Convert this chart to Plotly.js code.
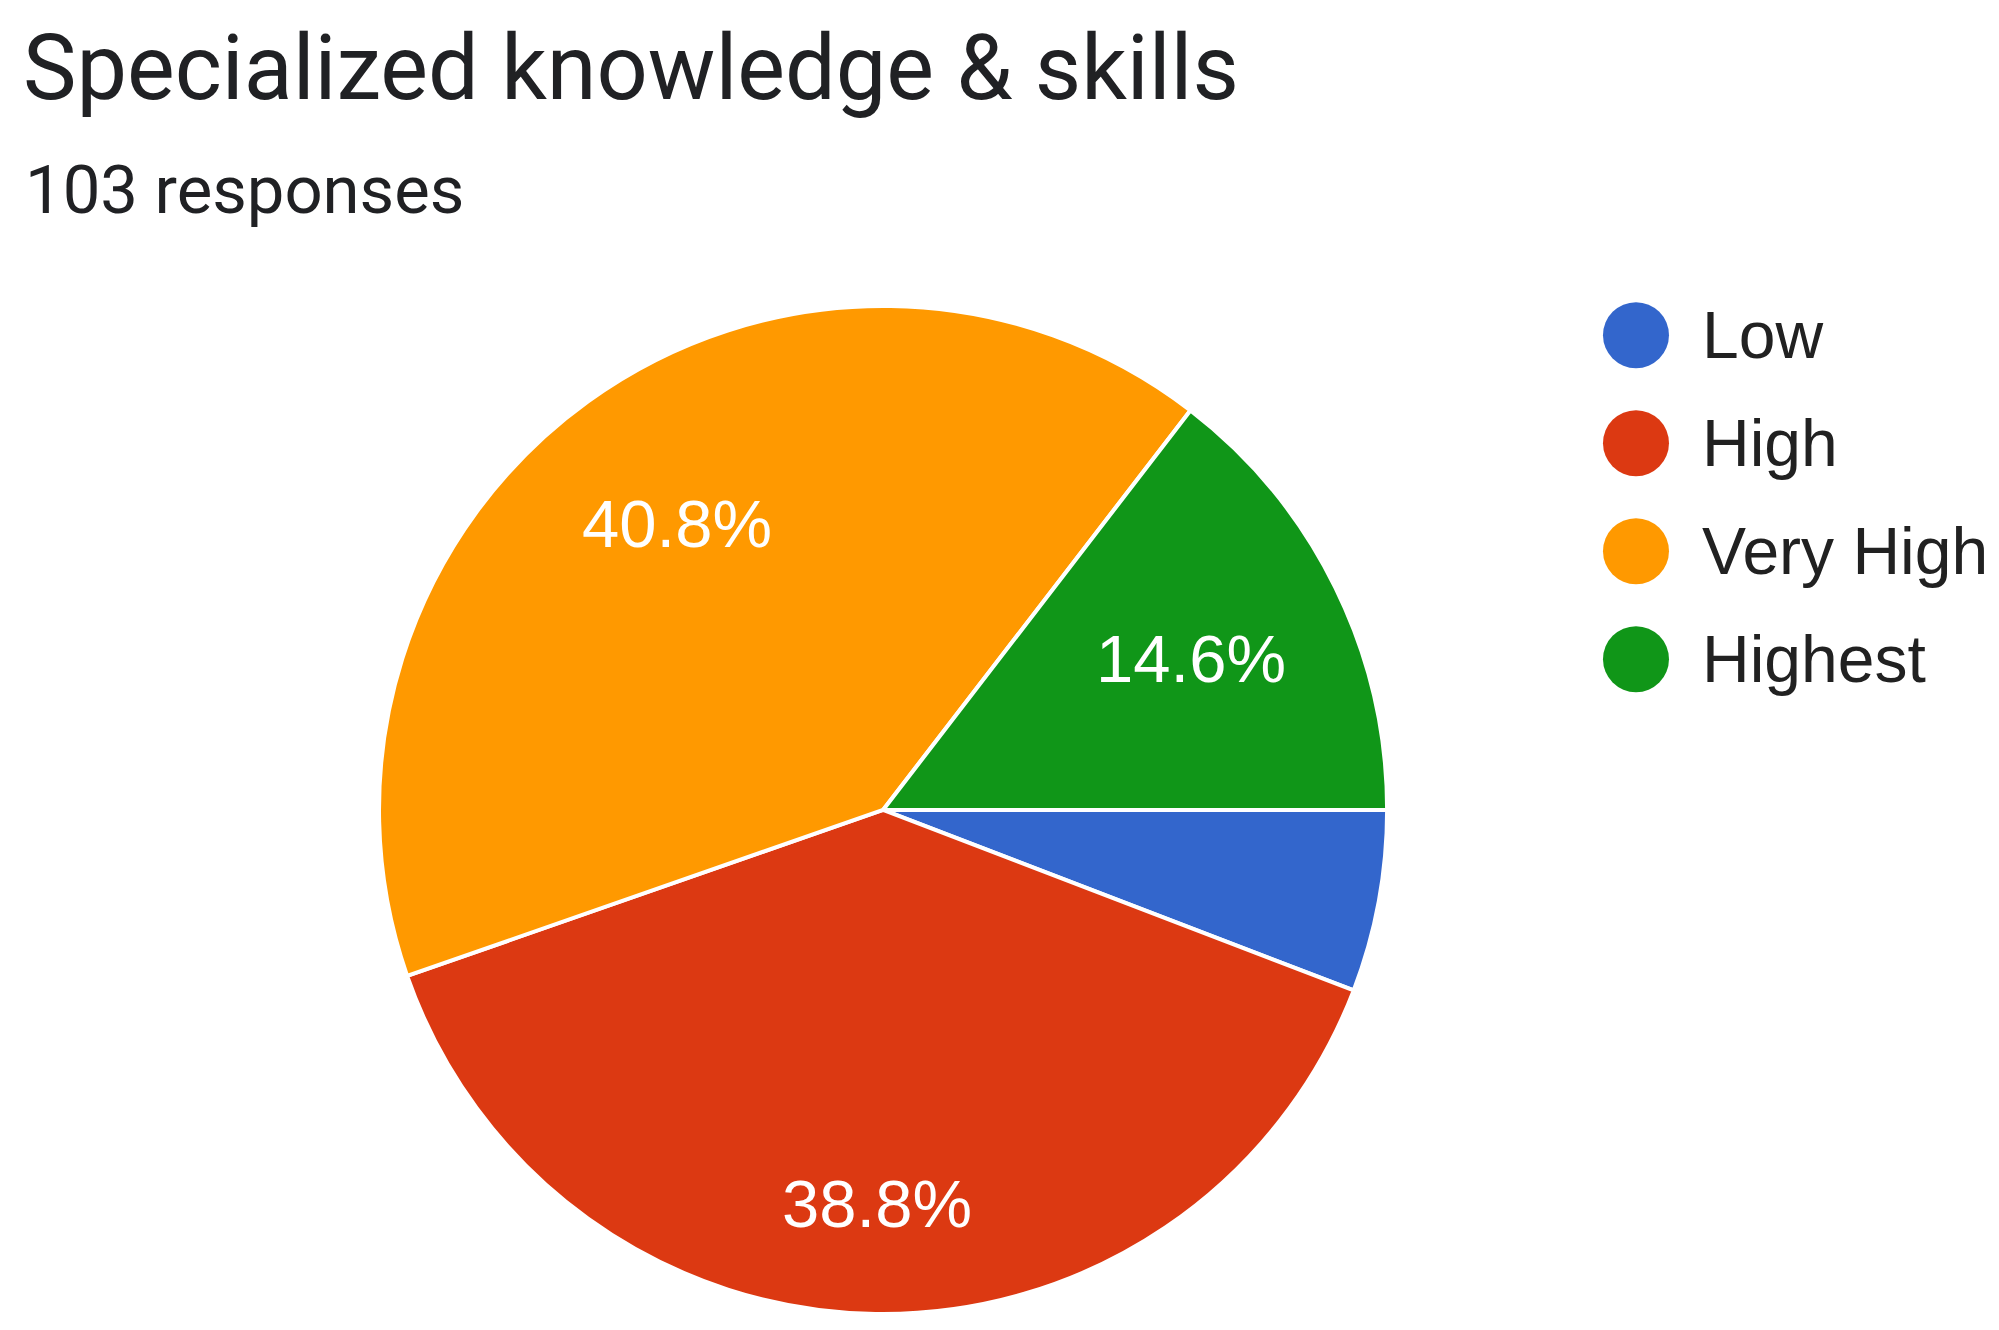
<!DOCTYPE html>
<html>
<head>
<meta charset="utf-8">
<script src="https://cdn.plot.ly/plotly-3.0.1.min.js"></script>
<style>
  html, body { margin: 0; padding: 0; background: #fff; }
  #myDiv { width: 1999px; height: 1330px; }
</style>
</head>
<body>
<div id="myDiv"></div>
<script>
// Categorías y conteos (103 respuestas)
var labels = ["Low", "High", "Very High", "Highest"];
var counts = [6, 40, 42, 15];
var colors = ["#3366cc", "#dc3912", "#ff9900", "#109618"];

var W = 1999;
var H = 1330;
var total = counts.reduce((a, b) => a + b, 0);

// Dominio del pastel (fracciones del papel)
var domX = [0.1896, 0.6939];
var domY = [0.012, 0.77];

var trace = {
  type: "pie",
  labels: labels,
  values: counts,
  sort: false,
  direction: "clockwise",
  rotation: 90,
  textinfo: "none",
  marker: { colors: colors, line: { color: "#ffffff", width: 4 } },
  domain: { x: domX, y: domY },
  hoverinfo: "none",
  showlegend: false,
};

// Etiquetas de porcentaje: sobre la bisectriz de cada sector
var labelRadius = [0, 0.78, 0.7, 0.68]; // fracción del radio
var cx = (domX[0] + domX[1]) / 2;
var cy = (domY[0] + domY[1]) / 2;
var R = Math.min((domX[1] - domX[0]) * W, (domY[1] - domY[0]) * H) / 2;
var annotations = [];
var acc = 0;
counts.forEach((v, i) => {
  var mid = ((acc + v / 2) / total) * 2 * Math.PI; // horario desde las 3
  acc += v;
  if (v / total < 0.1) return; // el sector pequeño no lleva etiqueta
  var r = R * labelRadius[i];
  annotations.push({
    text: ((v / total) * 100).toFixed(1) + "%",
    xref: "paper",
    yref: "paper",
    x: cx + (r * Math.cos(mid)) / W,
    y: cy - (r * Math.sin(mid)) / H,
    xanchor: "center",
    yanchor: "middle",
    showarrow: false,
    font: { size: 67, color: "#ffffff", family: "Liberation Sans, Arial, sans-serif" },
  });
});

// Leyenda propia con círculos grandes
var legTop = 0.748;
var legStep = 0.0812;
var shapes = labels.map((name, i) => ({
  type: "circle",
  xref: "paper",
  yref: "paper",
  xsizemode: "pixel",
  ysizemode: "pixel",
  xanchor: 0.8184,
  yanchor: legTop - i * legStep,
  x0: -33, x1: 33, y0: -33, y1: 33,
  fillcolor: colors[i],
  line: { width: 0 },
}));
labels.forEach((name, i) => {
  annotations.push({
    text: name,
    xref: "paper",
    yref: "paper",
    x: 0.8504,
    y: legTop - i * legStep,
    xanchor: "left",
    yanchor: "middle",
    showarrow: false,
    font: { size: 66, color: "#212121", family: "Liberation Sans, Arial, sans-serif" },
  });
});

// Subtítulo
annotations.push({
  text: "103 responses",
  xref: "paper",
  yref: "paper",
  x: 0.0115,
  y: 0.857,
  xanchor: "left",
  yanchor: "middle",
  showarrow: false,
  font: { size: 67, color: "#202124", family: "Roboto, sans-serif" },
});

var layout = {
  width: W,
  height: H,
  margin: { l: 0, r: 0, t: 0, b: 0 },
  paper_bgcolor: "#ffffff",
  title: {
    text: "Specialized knowledge & skills",
    font: { size: 90, color: "#202124", family: "Roboto, sans-serif" },
    x: 0.0115,
    xanchor: "left",
    xref: "paper",
    y: 0.973,
    yanchor: "top",
    yref: "container",
  },
  shapes: shapes,
  annotations: annotations,
};

Plotly.newPlot("myDiv", [trace], layout, { staticPlot: true });
</script>
</body>
</html>
